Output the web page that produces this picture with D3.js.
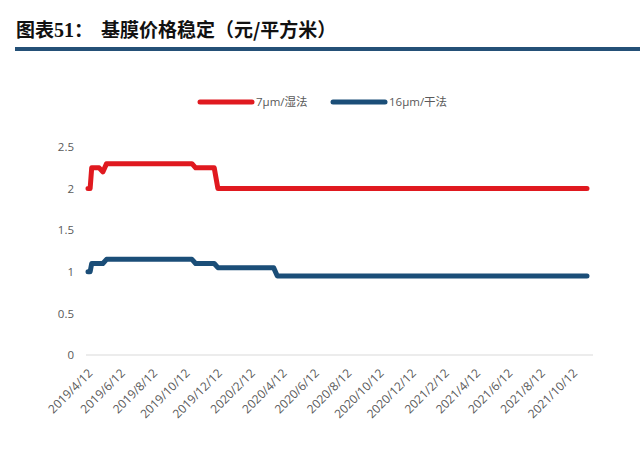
<!DOCTYPE html>
<html>
<head>
<meta charset="utf-8">
<script src="https://cdn.jsdelivr.net/npm/d3@7"></script>
<style>
  body { margin: 0; background: #fff; }
  svg { display: block; }
</style>
</head>
<body>
<div id="chart"></div>
<script>
// data: change points of the weekly price series
var dates = ["2019-04-12", "2019-04-16", "2019-04-19", "2019-05-03", "2019-05-10", "2019-05-17",
             "2019-10-25", "2019-11-01", "2019-12-06", "2019-12-13",
             "2020-03-27", "2020-04-03", "2021-11-08"];
var wet7 = [2, 2, 2.25, 2.25, 2.2, 2.3, 2.3, 2.25, 2.25, 2, 2, 2, 2];
var dry16 = [1, 1, 1.1, 1.1, 1.1, 1.15, 1.15, 1.1, 1.1, 1.05, 1.05, 0.95, 0.95];
var seriesNames = ["7μm/湿法", "16μm/干法"];
var seriesColors = ["#e0191f", "#1b4e78"];
var yTicks = [0, 0.5, 1, 1.5, 2, 2.5];
var xTickLabels = ["2019/4/12", "2019/6/12", "2019/8/12", "2019/10/12", "2019/12/12",
                   "2020/2/12", "2020/4/12", "2020/6/12", "2020/8/12", "2020/10/12",
                   "2020/12/12", "2021/2/12", "2021/4/12", "2021/6/12", "2021/8/12",
                   "2021/10/12"];

var W = 640, H = 454;
var parse = d3.timeParse("%Y-%m-%d");
var parseTick = d3.timeParse("%Y/%m/%d");

var svg = d3.select("#chart").append("svg")
    .attr("width", W)
    .attr("height", H);

// title
var title = svg.append("text")
    .attr("x", 16)
    .attr("y", 37)
    .attr("font-family", "'Noto Sans CJK SC', sans-serif")
    .attr("font-weight", "bold")
    .attr("font-size", 19)
    .attr("fill", "#111");
title.append("tspan").text("图表");
title.append("tspan").attr("font-family", "'Liberation Serif', serif").attr("font-size", 20).text("51");
title.append("tspan").text("：");
title.append("tspan").attr("x", 101).text("基膜价格稳定（元/平方米）");

svg.append("rect")
    .attr("x", 15).attr("y", 47)
    .attr("width", W - 15).attr("height", 4)
    .attr("fill", "#245077");

// scales
var x = d3.scaleTime()
    .domain([parse("2019-04-12"), parse("2021-11-08")])
    .range([88, 587]);

var y = d3.scaleLinear()
    .domain([0, 2.5])
    .range([355, 147]);

// zero line
svg.append("line")
    .attr("x1", 86).attr("x2", 593)
    .attr("y1", y(0)).attr("y2", y(0))
    .attr("stroke", "#d9d9d9")
    .attr("stroke-width", 1.2);

// y axis labels
var yAxis = svg.append("g")
    .attr("transform", "translate(74,0)")
    .call(d3.axisLeft(y).tickValues(yTicks).tickSize(0).tickPadding(0)
      .tickFormat(function(d) { return String(d); }));
yAxis.select(".domain").remove();
yAxis.selectAll("text")
    .attr("font-family", "'Open Sans', sans-serif")
    .attr("font-size", 11.5)
    .attr("fill", "#595959");

// x tick labels (rotated)
var xAxis = svg.append("g")
    .attr("transform", "translate(0," + y(0) + ")")
    .call(d3.axisBottom(x).tickValues(xTickLabels.map(function(s) { return parseTick(s); }))
      .tickSize(0).tickPadding(0)
      .tickFormat(function(d, i) { return xTickLabels[i]; }));
xAxis.select(".domain").remove();
xAxis.selectAll("text")
    .attr("font-family", "'Open Sans', sans-serif")
    .attr("font-size", 12)
    .attr("fill", "#595959")
    .attr("text-anchor", "end")
    .attr("y", 0)
    .attr("dy", "0.35em")
    .attr("transform", "translate(2,16) rotate(-45)");

// lines
var line = d3.line()
    .x(function(d) { return x(d.date); })
    .y(function(d) { return y(d.value); });

[wet7, dry16].forEach(function(vals, k) {
  var pts = dates.map(function(s, i) { return {date: parse(s), value: vals[i]}; });
  svg.append("path")
      .datum(pts)
      .attr("d", line)
      .attr("fill", "none")
      .attr("stroke", seriesColors[k])
      .attr("stroke-width", 5)
      .attr("stroke-linejoin", "round")
      .attr("stroke-linecap", "round");
});

// legend
var legendX = [200, 333];
seriesNames.forEach(function(name, k) {
  var g = svg.append("g").attr("transform", "translate(" + legendX[k] + ",102)");
  g.append("line")
      .attr("x1", 0).attr("x2", 52)
      .attr("stroke", seriesColors[k])
      .attr("stroke-width", 5)
      .attr("stroke-linecap", "round");
  g.append("text")
      .attr("x", 56)
      .attr("dy", "0.35em")
      .attr("font-family", "'Open Sans', 'Noto Sans CJK SC', sans-serif")
      .attr("font-size", 11.5)
      .attr("fill", "#595959")
      .text(name);
});
</script>
</body>
</html>
